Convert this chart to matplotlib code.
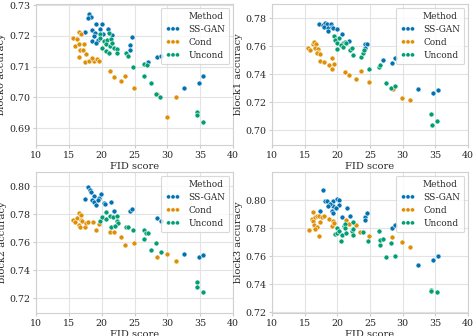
import matplotlib
matplotlib.use("Agg")
import matplotlib.pyplot as plt
from matplotlib.lines import Line2D

# ---------------- data ----------------
methods = ["SS-GAN", "Cond", "Uncond"]
colors = ["#0173b2", "#de8f05", "#029e73"]
blocks = ["block0", "block1", "block2", "block3"]
x_ticks = [10, 15, 20, 25, 30, 35, 40]

# block0
b0_ssgan_x = [18.07, 18.33, 17.92, 17.4, 19.2, 20.07, 18.6, 19.7, 18.94, 18.8, 20.2, 19.45, 18.5, 19.2,
              21.0, 21.5, 24.6, 24.3, 24.3, 27.1, 28.5, 29.0, 32.5, 34.8, 35.5]
b0_ssgan_y = [0.7270, 0.7261, 0.7257, 0.7213, 0.7238, 0.7240, 0.7220, 0.7222, 0.7208, 0.7200, 0.7205,
              0.7186, 0.7182, 0.7178, 0.7222, 0.7203, 0.7195, 0.7170, 0.7154, 0.7114, 0.7130, 0.7136,
              0.7029, 0.7046, 0.7071]
b0_cond_x = [15.6, 16.2, 16.5, 16.9, 16.0, 16.5, 16.75, 17.15, 17.3, 16.6, 17.6, 17.4, 18.0, 18.85,
             19.3, 19.6, 18.5, 21.3, 21.95, 23.0, 23.6, 24.9, 28.4, 31.3, 30.0]
b0_cond_y = [0.7192, 0.7190, 0.7214, 0.7205, 0.7168, 0.7173, 0.7154, 0.7154, 0.7175, 0.7130, 0.7141,
             0.7116, 0.7119, 0.7119, 0.7125, 0.7119, 0.7127, 0.7085, 0.7066, 0.7053, 0.7071, 0.7031,
             0.7011, 0.7001, 0.6936]
b0_uncond_x = [19.7, 21.1, 19.8, 20.3, 20.8, 21.4, 20.1, 20.6, 21.2, 21.85, 22.3, 20.7, 21.1, 22.4,
               21.5, 23.7, 24.05, 24.8, 26.45, 26.9, 26.5, 27.5, 28.3, 28.9, 34.5, 34.5, 35.4]
b0_uncond_y = [0.7205, 0.7211, 0.7192, 0.7182, 0.7186, 0.7189, 0.7162, 0.7173, 0.7168, 0.7162, 0.7157,
               0.7152, 0.7146, 0.7146, 0.7178, 0.7146, 0.7135, 0.7100, 0.7109, 0.7106, 0.7069, 0.7048,
               0.7012, 0.7001, 0.6952, 0.6942, 0.6920]

# block1
b1_ssgan_x = [17.27, 17.78, 18.13, 18.39, 17.98, 18.64, 18.54, 19.0, 19.15, 19.4, 19.9, 20.7, 21.85,
              24.2, 24.6, 24.2, 27.0, 28.35, 28.8, 32.4, 34.7, 35.4]
b1_ssgan_y = [0.7757, 0.7752, 0.7764, 0.7757, 0.7736, 0.7728, 0.7712, 0.7757, 0.7740, 0.7728, 0.7721,
              0.7688, 0.7640, 0.7614, 0.7614, 0.7585, 0.7501, 0.7482, 0.7513, 0.7296, 0.7263, 0.7287]
b1_cond_x = [15.55, 16.35, 16.4, 16.7, 15.85, 16.6, 17.0, 17.1, 16.9, 17.4, 17.3, 17.9, 18.7, 19.2,
             19.2, 19.55, 21.2, 21.8, 22.9, 23.6, 24.85, 28.45, 29.9, 31.15]
b1_cond_y = [0.7590, 0.7614, 0.7628, 0.7614, 0.7573, 0.7585, 0.7578, 0.7556, 0.7549, 0.7542, 0.7497,
             0.7487, 0.7466, 0.7518, 0.7435, 0.7470, 0.7415, 0.7396, 0.7368, 0.7425, 0.7341, 0.7291,
             0.7227, 0.7213]
b1_uncond_x = [19.5, 19.9, 20.3, 19.6, 20.0, 20.8, 20.5, 20.9, 21.2, 21.4, 21.9, 22.3, 20.0, 22.4,
               23.6, 23.9, 24.1, 24.8, 26.4, 26.6, 27.4, 28.2, 28.8, 34.4, 34.45, 35.3]
b1_uncond_y = [0.7673, 0.7652, 0.7657, 0.7645, 0.7621, 0.7626, 0.7609, 0.7597, 0.7628, 0.7621, 0.7573,
               0.7585, 0.7578, 0.7537, 0.7521, 0.7549, 0.7573, 0.7435, 0.7449, 0.7463, 0.7339, 0.7303,
               0.7315, 0.7112, 0.7033, 0.7067]

# block2
b2_ssgan_x = [17.92, 18.18, 18.43, 17.4, 18.84, 18.6, 18.9, 19.2, 19.55, 19.96, 19.5, 20.3, 20.5,
              21.45, 21.9, 24.3, 24.65, 28.5, 29.0, 32.6, 34.85, 35.5]
b2_ssgan_y = [0.7995, 0.7976, 0.7959, 0.7912, 0.7928, 0.7904, 0.7888, 0.7864, 0.7916, 0.7945, 0.7900,
              0.7881, 0.7873, 0.7885, 0.7821, 0.7821, 0.7838, 0.7773, 0.7749, 0.7515, 0.7491, 0.7510]
b2_cond_x = [15.6, 16.2, 16.5, 16.9, 16.0, 16.8, 17.05, 16.5, 16.75, 17.4, 17.55, 17.9, 18.7, 19.2,
             19.55, 21.3, 21.9, 23.0, 23.6, 24.9, 28.4, 30.0, 31.3]
b2_cond_y = [0.7761, 0.7773, 0.7809, 0.7792, 0.7744, 0.7761, 0.7754, 0.7721, 0.7711, 0.7709, 0.7737,
             0.7742, 0.7744, 0.7690, 0.7730, 0.7673, 0.7673, 0.7635, 0.7577, 0.7592, 0.7491, 0.7515,
             0.7467]
b2_uncond_x = [19.7, 20.1, 20.6, 20.7, 21.25, 21.75, 22.35, 22.35, 22.5, 21.4, 22.0, 23.65, 24.05,
               24.8, 26.45, 26.75, 27.1, 26.45, 28.3, 27.5, 29.0, 34.5, 34.5, 35.4]
b2_uncond_y = [0.7754, 0.7778, 0.7816, 0.7768, 0.7785, 0.7778, 0.7785, 0.7754, 0.7737, 0.7706, 0.7713,
               0.7706, 0.7709, 0.7690, 0.7687, 0.7666, 0.7666, 0.7623, 0.7592, 0.7544, 0.7527, 0.7312,
               0.7276, 0.7243]

# block3
b3_ssgan_x = [17.88, 18.13, 18.4, 17.37, 19.3, 19.9, 20.3, 20.3, 19.4, 18.9, 19.15, 19.4, 19.8, 21.55,
              20.7, 21.95, 24.2, 24.5, 24.2, 28.35, 28.8, 32.4, 34.7, 35.4, 18.6]
b3_ssgan_y = [0.8076, 0.7998, 0.7993, 0.7926, 0.7993, 0.8012, 0.8002, 0.7969, 0.7957, 0.7974, 0.7926,
              0.7909, 0.7945, 0.7945, 0.7878, 0.7890, 0.7878, 0.7909, 0.7861, 0.7799, 0.7826, 0.7534,
              0.7573, 0.7599, 0.7962]
b3_cond_x = [15.6, 16.25, 16.1, 16.35, 16.6, 16.85, 16.45, 16.9, 16.65, 17.37, 17.27, 17.6, 17.98,
             17.2, 18.8, 19.3, 19.15, 19.5, 21.4, 21.8, 22.85, 23.5, 24.85, 28.35, 29.9, 31.1]
b3_cond_y = [0.7790, 0.7914, 0.7869, 0.7850, 0.7878, 0.7885, 0.7821, 0.7807, 0.7795, 0.7845, 0.7885,
             0.7878, 0.7885, 0.7742, 0.7869, 0.7854, 0.7814, 0.7838, 0.7861, 0.7830, 0.7826, 0.7773,
             0.7742, 0.7735, 0.7701, 0.7663]
b3_uncond_x = [19.7, 20.0, 19.9, 20.3, 20.5, 20.7, 21.0, 21.1, 21.2, 21.4, 22.2, 22.35, 22.35, 22.45,
               24.0, 24.65, 26.4, 26.5, 26.6, 27.0, 27.4, 28.2, 28.8, 34.35, 34.35, 35.3]
b3_uncond_y = [0.7759, 0.7766, 0.7802, 0.7783, 0.7706, 0.7754, 0.7814, 0.7830, 0.7802, 0.7766, 0.7778,
               0.7845, 0.7754, 0.7795, 0.7771, 0.7706, 0.7778, 0.7682, 0.7718, 0.7725, 0.7592, 0.7694,
               0.7604, 0.7360, 0.7348, 0.7341]

panel_data = [
    [(b0_ssgan_x, b0_ssgan_y), (b0_cond_x, b0_cond_y), (b0_uncond_x, b0_uncond_y)],
    [(b1_ssgan_x, b1_ssgan_y), (b1_cond_x, b1_cond_y), (b1_uncond_x, b1_uncond_y)],
    [(b2_ssgan_x, b2_ssgan_y), (b2_cond_x, b2_cond_y), (b2_uncond_x, b2_uncond_y)],
    [(b3_ssgan_x, b3_ssgan_y), (b3_cond_x, b3_cond_y), (b3_uncond_x, b3_uncond_y)],
]
y_ticks = [
    [0.69, 0.70, 0.71, 0.72, 0.73],
    [0.70, 0.72, 0.74, 0.76, 0.78],
    [0.72, 0.74, 0.76, 0.78, 0.80],
    [0.72, 0.74, 0.76, 0.78, 0.80],
]
y_lims = [(0.6845, 0.7304), (0.6893, 0.7902), (0.7093, 0.8102), (0.7193, 0.8203)]

# ---------------- style ----------------
plt.rcParams.update({
    "font.family": ["DejaVu Serif"],
    "font.size": 7,
    "text.color": "#262626",
    "axes.labelcolor": "#262626",
    "xtick.color": "#262626",
    "ytick.color": "#262626",
})

fig = plt.figure(figsize=(4.74, 3.36), dpi=100)
W, H = 474, 336
boxes = [(36, 4, 233, 145), (272, 4, 468, 145), (36, 172, 233, 313), (272, 172, 468, 313)]

for i, (l, t, r, b) in enumerate(boxes):
    ax = fig.add_axes([l / W, 1 - b / H, (r - l) / W, (b - t) / H])
    ax.set_axisbelow(True)
    ax.grid(True, color="#e3e3e3", linewidth=0.8)
    for s in ax.spines.values():
        s.set_color("#d0d0d0")
        s.set_linewidth(0.8)
    ax.tick_params(length=2.5, width=0.8, color="#cccccc", pad=1.5, labelsize=6.8)
    for m, (xs, ys), c in zip(methods, panel_data[i], colors):
        ax.scatter(xs, ys, s=13, color=c, edgecolor="white", linewidth=0.4, label=m, zorder=3)
    ax.set_xlim(10, 40)
    ax.set_xticks(x_ticks)
    ax.set_ylim(*y_lims[i])
    ax.set_yticks(y_ticks[i])
    ax.set_yticklabels([f"{v:.2f}" for v in y_ticks[i]])
    ax.set_xlabel("FID score", fontsize=7.1, labelpad=2)
    ax.set_ylabel(f"{blocks[i]} accuracy", fontsize=7.1, labelpad=2)

    handles = [Line2D([], [], linestyle="none", marker=None)]
    labels = ["Method"]
    for m, c in zip(methods, colors):
        handles.append(ax.scatter([], [], s=9, color=c, edgecolor="white", linewidth=0.3))
        labels.append(m)
    leg = ax.legend(handles, labels, loc="upper right", scatterpoints=3, fontsize=6.4,
                    frameon=True, borderaxespad=0.4, handletextpad=0.9, labelspacing=0.45,
                    borderpad=0.5, handlelength=1.6, fancybox=True, scatteryoffsets=[0.5])
    leg.get_frame().set_edgecolor("#d0d0d0")
    leg.get_frame().set_linewidth(0.8)

fig.savefig("out.png", dpi=100)
